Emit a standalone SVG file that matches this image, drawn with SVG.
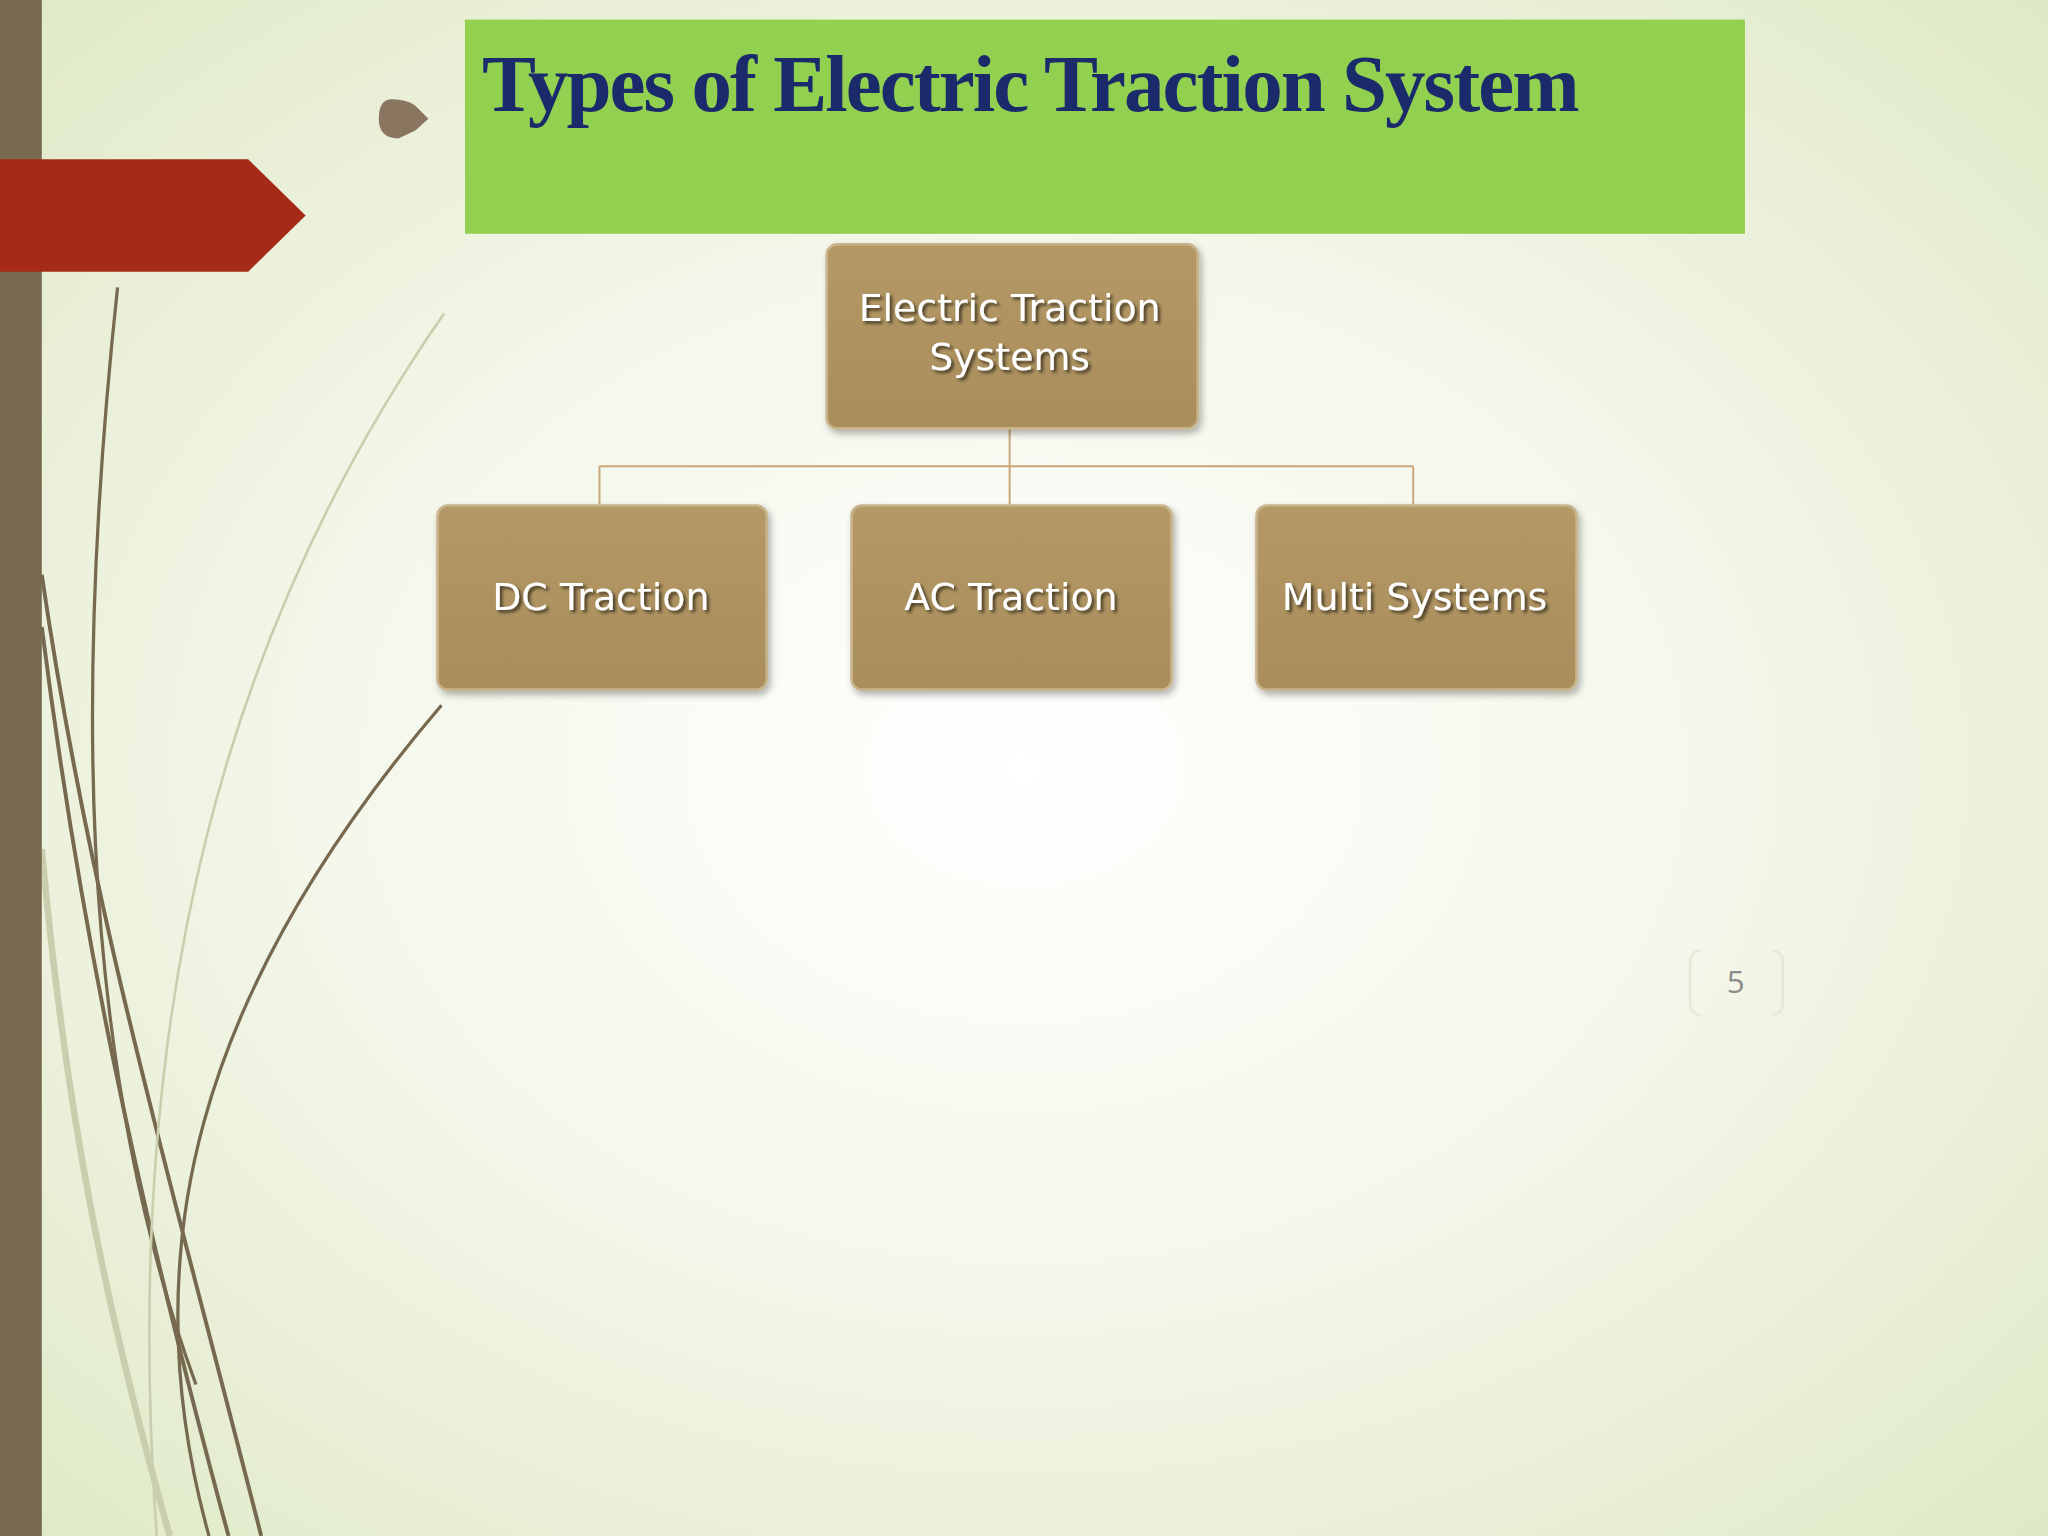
<svg xmlns="http://www.w3.org/2000/svg" width="2048" height="1536" viewBox="0 0 2048 1536">
<defs>
<radialGradient id="bg" cx="0.5" cy="0.5" r="0.75">
<stop offset="0" stop-color="#ffffff"/>
<stop offset="0.45" stop-color="#f4f7ea"/>
<stop offset="1" stop-color="#dde7c2"/>
</radialGradient>
<filter id="sh" x="-10%" y="-10%" width="130%" height="130%">
<feDropShadow dx="2" dy="3" stdDeviation="3" flood-color="#000" flood-opacity="0.3"/>
</filter>
<filter id="tsh"><feDropShadow dx="2" dy="2" stdDeviation="1.2" flood-color="#000" flood-opacity="0.6"/></filter>
<linearGradient id="nf" x1="0" y1="0" x2="0" y2="1">
<stop offset="0" stop-color="#b49866"/><stop offset="1" stop-color="#a98e5c"/>
</linearGradient>
</defs>
<style>
.node{fill:url(#nf);stroke:#c8b48c;stroke-width:2;filter:url(#sh)}
.nt{font-family:"DejaVu Sans",sans-serif;font-size:29px;fill:#ffffff;text-anchor:middle;filter:url(#tsh)}
.conn{fill:none;stroke:#c9a57a;stroke-width:1.5}
.curve{fill:none;stroke:#76694f}
</style>
<rect width="2048" height="1536" fill="url(#bg)"/>
<g transform="scale(1.30612)">
<g id="decor">
<path class="curve" stroke-width="3" d="M32,440 C70,700 130,900 200,1176"/>
<path class="curve" stroke-width="3" d="M32,480 C60,700 100,900 175,1176"/>
<path class="curve" stroke-width="2.5" d="M90,220 C60,500 55,800 150,1060"/>
<path class="curve" stroke-width="2.5" d="M338,540 C150,760 100,960 160,1176"/>
<path fill="none" stroke="#c9cfae" stroke-width="2" d="M340,240 C180,470 90,760 120,1176"/>
<path fill="none" stroke="#c9cfae" stroke-width="5" d="M32,650 C50,850 80,1000 130,1176"/>
<rect x="0" y="0" width="32" height="1176" fill="#76694f"/>
<polygon points="0,122 190,122 234,165 190,208 0,208" fill="#a52a17"/>
<path d="M300,76 Q290,76 290,91 Q290,106 305,106 L318,100 L328,91 L318,81 Q312,76 300,76 Z" fill="#8a7560"/>
</g>
<g id="title">
<rect x="356" y="15" width="980" height="164" fill="#92d050"/>
<text x="369" y="85" font-family="'Liberation Serif',serif" font-weight="bold" font-size="62" fill="#1b2a6b" letter-spacing="-1.5">Types of Electric Traction System</text>
</g>
<g id="connectors">
<path class="conn" d="M773,328 V357 M459,357 H1082 M459,357 V387 M773,357 V387 M1082,357 V387"/>
</g>
<g id="root">
<rect class="node" x="633" y="187" width="284" height="141" rx="8"/>
<text class="nt" x="773" y="246">Electric Traction</text>
<text class="nt" x="773" y="283">Systems</text>
</g>
<g id="dc">
<rect class="node" x="335" y="387" width="252" height="141" rx="8"/>
<text class="nt" x="460" y="467">DC Traction</text>
</g>
<g id="ac">
<rect class="node" x="652" y="387" width="245" height="141" rx="8"/>
<text class="nt" x="774" y="467">AC Traction</text>
</g>
<g id="multi">
<rect class="node" x="962" y="387" width="245" height="141" rx="8"/>
<text class="nt" x="1083" y="467">Multi Systems</text>
</g>
<g id="page">
<path d="M1302,728 Q1294,728 1294,738 V767 Q1294,777 1302,777 M1357,728 Q1365,728 1365,738 V767 Q1365,777 1357,777" fill="none" stroke="#e6e9da" stroke-width="2"/>
<text x="1329" y="760" font-family="'Open Sans',sans-serif" font-size="24" fill="#8c8c8c" text-anchor="middle">5</text>
</g>
</g>
</svg>
